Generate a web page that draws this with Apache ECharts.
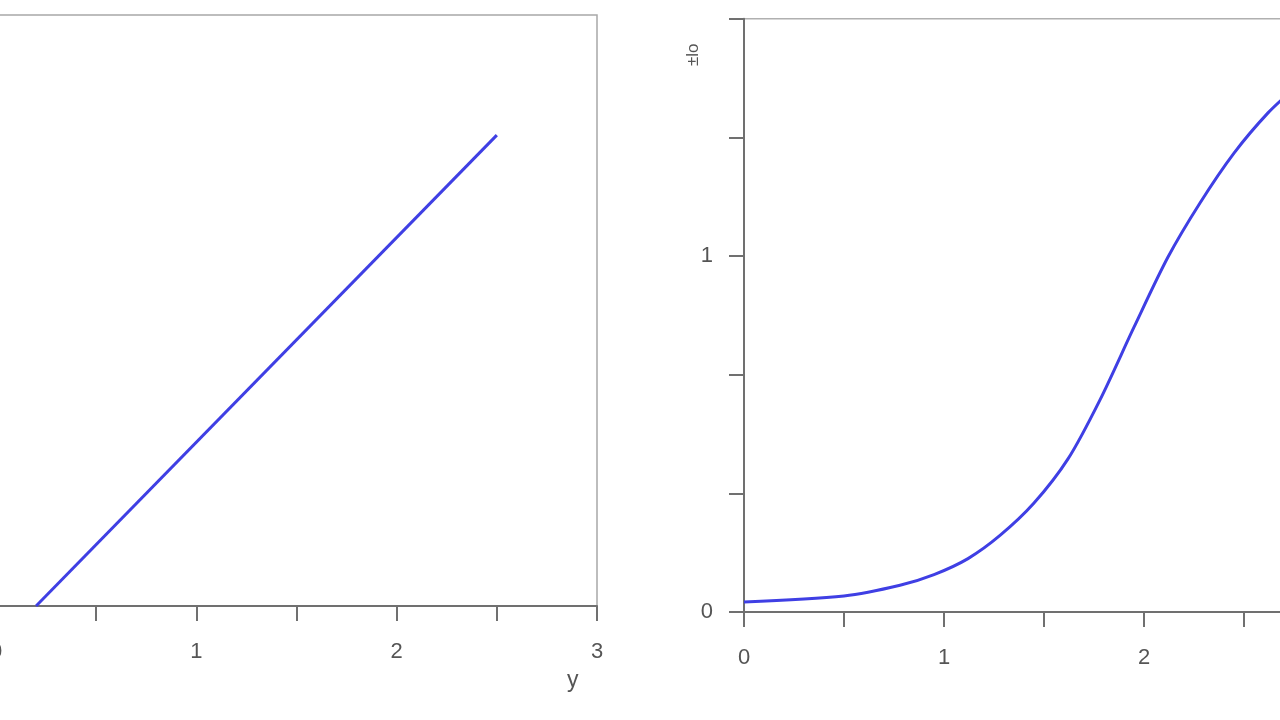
<!DOCTYPE html>
<html>
<head>
<meta charset="utf-8">
<script src="https://cdn.jsdelivr.net/npm/echarts@6/dist/echarts.min.js"></script>
<style>
html,body{margin:0;padding:0;background:#fff;}
#chart{width:1280px;height:720px;}
</style>
</head>
<body>
<div id="chart"></div>
<script>
// Left panel: straight line
const leftX = [0.2, 2.5];
const leftY = [0, 2.39];
// Right panel: S-shaped curve
const rightX = [0, 0.5, 0.78, 0.95, 1.12, 1.28, 1.45, 1.62, 1.78, 1.95, 2.12, 2.28, 2.45, 2.62, 2.75];
const rightY = [0.028, 0.045, 0.075, 0.105, 0.150, 0.215, 0.306, 0.430, 0.596, 0.800, 0.997, 1.149, 1.289, 1.402, 1.47];
// Labels
const leftXAxisName = 'y';
const rightYAxisName = '±lo';
const integerTicks = [0, 1, 2, 3];

const axisColor = '#707070';
const labelColor = '#555';
const lineColor = '#3f3fe4';
const font = 'Liberation Sans, Arial, sans-serif';

function intLabel(v) {
  const r = Math.round(v);
  return (Math.abs(v - r) < 1e-6 && integerTicks.indexOf(r) >= 0) ? String(r) : '';
}

const chart = echarts.init(document.getElementById('chart'));
chart.setOption({
  animation: false,
  backgroundColor: '#fff',
  grid: [
    {left: -4, top: 15, width: 601, height: 591, outerBoundsMode: 'none', containLabel: false, show: true, borderColor: '#a8a8a8', borderWidth: 1.5, backgroundColor: 'transparent'},
    {left: 744, top: 18.67, width: 600, height: 593.33, outerBoundsMode: 'none', containLabel: false, show: true, borderColor: '#b0b0b0', borderWidth: 1.5, backgroundColor: 'transparent'}
  ],
  xAxis: [
    {type: 'value', gridIndex: 0, min: 0, max: 3, interval: 0.5,
     axisLine: {show: true, onZero: false, lineStyle: {color: axisColor, width: 2}},
     axisTick: {show: true, length: 15, lineStyle: {color: axisColor, width: 2}},
     axisLabel: {margin: 35, fontSize: 22, color: labelColor, fontFamily: font, formatter: intLabel},
     splitLine: {show: false}},
    {type: 'value', gridIndex: 1, min: 0, max: 3, interval: 0.5,
     axisLine: {show: true, onZero: false, lineStyle: {color: axisColor, width: 2}},
     axisTick: {show: true, length: 15, lineStyle: {color: axisColor, width: 2}},
     axisLabel: {margin: 35, fontSize: 22, color: labelColor, fontFamily: font, formatter: intLabel},
     splitLine: {show: false}}
  ],
  yAxis: [
    {type: 'value', gridIndex: 0, min: 0, max: 3, interval: 0.5,
     axisLine: {show: true, onZero: false, lineStyle: {color: axisColor, width: 2}},
     axisTick: {show: false},
     axisLabel: {show: false},
     splitLine: {show: false}},
    {type: 'value', gridIndex: 1, min: 0, max: 5/3, interval: 1/3,
     axisLine: {show: true, onZero: false, lineStyle: {color: axisColor, width: 2}},
     axisTick: {show: true, length: 15, lineStyle: {color: axisColor, width: 2}},
     axisLabel: {margin: 31, fontSize: 22, color: labelColor, fontFamily: font, formatter: intLabel},
     splitLine: {show: false}}
  ],
  series: [
    {type: 'line', xAxisIndex: 0, yAxisIndex: 0, showSymbol: false, symbol: 'none',
     data: leftX.map((x, i) => [x, leftY[i]]),
     lineStyle: {color: lineColor, width: 3}},
    {type: 'line', xAxisIndex: 1, yAxisIndex: 1, showSymbol: false, symbol: 'none', smooth: 0.3,
     data: rightX.map((x, i) => [x, rightY[i]]),
     lineStyle: {color: lineColor, width: 3}}
  ],
  graphic: [
    {type: 'text', left: 567, top: 669,
     style: {text: leftXAxisName, fontSize: 23, fill: labelColor, fontFamily: font}},
    {type: 'text', x: 685, y: 66, rotation: Math.PI / 2,
     style: {text: rightYAxisName, fontSize: 17, fill: labelColor, fontFamily: font}}
  ]
});
</script>
</body>
</html>
